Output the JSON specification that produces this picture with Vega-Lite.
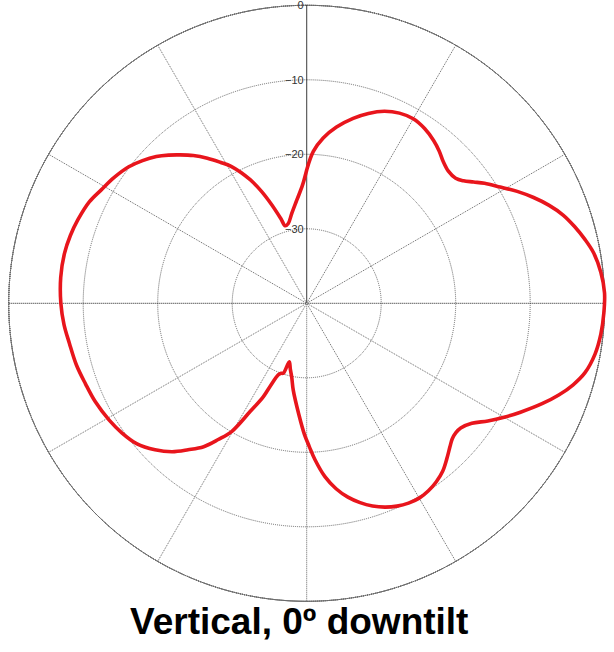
{
  "$schema": "https://vega.github.io/schema/vega-lite/v6.json",
  "description": "Vertical antenna pattern, 0 degree downtilt (dB, polar).",
  "width": 614,
  "height": 652,
  "autosize": "none",
  "padding": 0,
  "background": "white",
  "config": {"view": {"stroke": null}},
  "layer": [
    {
      "data": {"values": [{"level": -30}, {"level": -20}, {"level": -10}, {"level": 0}]},
      "mark": {"type": "arc", "theta": 0, "theta2": 6.2832, "fillOpacity": 0, "stroke": "#666666", "strokeWidth": 1, "strokeDash": [1, 1]},
      "encoding": {
        "x": {"datum": 0, "type": "quantitative", "scale": {"domain": [-41.168, 41.248], "nice": false, "zero": false}, "axis": null},
        "y": {"datum": 0, "type": "quantitative", "scale": {"domain": [-46.805, 40.711], "nice": false, "zero": false}, "axis": null},
        "radius": {"field": "level", "type": "quantitative", "stack": null, "scale": {"type": "linear", "domain": [-40, 0], "range": [0, 298], "zero": false}, "legend": null}
      }
    },
    {
      "data": {"values": [
        {"angle": 0}, {"angle": 30}, {"angle": 60}, {"angle": 90}, {"angle": 120}, {"angle": 150},
        {"angle": 180}, {"angle": 210}, {"angle": 240}, {"angle": 270}, {"angle": 300}, {"angle": 330}
      ]},
      "transform": [
        {"calculate": "40 * sin(datum.angle * PI / 180)", "as": "xe"},
        {"calculate": "40 * cos(datum.angle * PI / 180)", "as": "ye"}
      ],
      "mark": {"type": "rule", "strokeWidth": 1},
      "encoding": {
        "x": {"field": "xe", "type": "quantitative", "scale": {"domain": [-41.168, 41.248], "nice": false, "zero": false}, "axis": null},
        "y": {"field": "ye", "type": "quantitative", "scale": {"domain": [-46.805, 40.711], "nice": false, "zero": false}, "axis": null},
        "x2": {"datum": 0},
        "y2": {"datum": 0},
        "color": {"condition": {"test": "datum.angle === 0 || datum.angle === 90 || datum.angle === 270", "value": "#1a1a1a"}, "value": "#666666"},
        "strokeDash": {"condition": {"test": "datum.angle === 0", "value": [1, 0]}, "value": [1, 1]}
      }
    },
    {
      "data": {"values": [{"level": 0}, {"level": -10}, {"level": -20}, {"level": -30}]},
      "transform": [{"calculate": "datum.level + 40", "as": "r"}],
      "mark": {"type": "text", "align": "right", "baseline": "middle", "dx": -3, "dy": 1, "fontSize": 11, "font": "Liberation Sans", "color": "#333333"},
      "encoding": {
        "x": {"datum": 0, "type": "quantitative", "scale": {"domain": [-41.168, 41.248], "nice": false, "zero": false}, "axis": null},
        "y": {"field": "r", "type": "quantitative", "scale": {"domain": [-46.805, 40.711], "nice": false, "zero": false}, "axis": null},
        "text": {"field": "level", "type": "quantitative"}
      }
    },
    {
      "data": {"values": [
        {"angle": 0, "gain": -22.1}, {"angle": 2.5, "gain": -19.6}, {"angle": 5.7, "gain": -17.7}, {"angle": 9.6, "gain": -16.0},
        {"angle": 14.1, "gain": -14.4}, {"angle": 18, "gain": -13.2}, {"angle": 22, "gain": -12.2},
        {"angle": 26, "gain": -11.6}, {"angle": 30, "gain": -11.4}, {"angle": 34, "gain": -11.7}, {"angle": 38, "gain": -12.3},
        {"angle": 41, "gain": -12.9}, {"angle": 44, "gain": -13.6}, {"angle": 47, "gain": -14.0}, {"angle": 50, "gain": -13.9},
        {"angle": 52, "gain": -13.3}, {"angle": 54, "gain": -12.3}, {"angle": 56, "gain": -11.2}, {"angle": 59, "gain": -9.7},
        {"angle": 62, "gain": -8.0}, {"angle": 65, "gain": -6.4}, {"angle": 68, "gain": -4.9}, {"angle": 71, "gain": -3.6},
        {"angle": 74, "gain": -2.6}, {"angle": 77, "gain": -1.7}, {"angle": 80, "gain": -0.9}, {"angle": 84, "gain": -0.3},
        {"angle": 88, "gain": 0}, {"angle": 92, "gain": -0.1}, {"angle": 96, "gain": -0.3}, {"angle": 100, "gain": -0.7},
        {"angle": 104, "gain": -1.5}, {"angle": 107, "gain": -2.6}, {"angle": 110, "gain": -4.0}, {"angle": 113, "gain": -5.6},
        {"angle": 117, "gain": -7.8}, {"angle": 120, "gain": -9.4}, {"angle": 123, "gain": -11.0}, {"angle": 126, "gain": -12.6},
        {"angle": 129, "gain": -13.4}, {"angle": 131, "gain": -13.5}, {"angle": 133, "gain": -13.3}, {"angle": 135, "gain": -12.8},
        {"angle": 138, "gain": -11.9}, {"angle": 141, "gain": -11.0}, {"angle": 144, "gain": -10.4}, {"angle": 147, "gain": -10.0},
        {"angle": 150, "gain": -9.8}, {"angle": 153, "gain": -9.9}, {"angle": 156, "gain": -10.2}, {"angle": 159, "gain": -10.7},
        {"angle": 162, "gain": -11.4}, {"angle": 165, "gain": -12.3}, {"angle": 168, "gain": -13.4}, {"angle": 171, "gain": -14.8},
        {"angle": 174, "gain": -16.6}, {"angle": 177, "gain": -19.0}, {"angle": 179, "gain": -20.8}, {"angle": 181, "gain": -22.4},
        {"angle": 184, "gain": -25.0}, {"angle": 188.8, "gain": -28.2}, {"angle": 191.5, "gain": -29.9}, {"angle": 194, "gain": -30.9},
        {"angle": 196.6, "gain": -31.8}, {"angle": 198.5, "gain": -30.1}, {"angle": 200, "gain": -30.0}, {"angle": 201.6, "gain": -29.7},
        {"angle": 203.8, "gain": -27.8}, {"angle": 204.9, "gain": -26.2}, {"angle": 207.6, "gain": -23.6}, {"angle": 210.3, "gain": -20.1},
        {"angle": 213, "gain": -18.2}, {"angle": 215.7, "gain": -16.3}, {"angle": 219, "gain": -14.7}, {"angle": 222.2, "gain": -13.1},
        {"angle": 226, "gain": -11.7}, {"angle": 230.5, "gain": -10.4}, {"angle": 235, "gain": -9.7}, {"angle": 239.4, "gain": -9.2},
        {"angle": 245, "gain": -8.7}, {"angle": 250, "gain": -8.4}, {"angle": 255, "gain": -8.0}, {"angle": 260.4, "gain": -7.7},
        {"angle": 265, "gain": -7.3}, {"angle": 270, "gain": -7.0}, {"angle": 276, "gain": -6.8}, {"angle": 281.6, "gain": -6.8},
        {"angle": 286, "gain": -7.0}, {"angle": 290, "gain": -7.3}, {"angle": 295, "gain": -7.8}, {"angle": 298.9, "gain": -8.5},
        {"angle": 303, "gain": -9.1}, {"angle": 307.5, "gain": -9.9}, {"angle": 311, "gain": -10.8}, {"angle": 314.3, "gain": -11.8},
        {"angle": 317, "gain": -12.8}, {"angle": 319.5, "gain": -13.8}, {"angle": 322.5, "gain": -15.0}, {"angle": 325.6, "gain": -16.4},
        {"angle": 328.5, "gain": -17.8}, {"angle": 331.1, "gain": -19.0}, {"angle": 335.5, "gain": -21.8}, {"angle": 338, "gain": -23.8},
        {"angle": 340.5, "gain": -26.0}, {"angle": 343, "gain": -28.1}, {"angle": 344.5, "gain": -29.2}, {"angle": 347, "gain": -29.0},
        {"angle": 350.5, "gain": -27.8}, {"angle": 354.5, "gain": -26.1}, {"angle": 358, "gain": -24.1}, {"angle": 360, "gain": -22.1}
      ]},
      "transform": [
        {"calculate": "(datum.gain + 40) * sin(datum.angle * PI / 180)", "as": "px"},
        {"calculate": "(datum.gain + 40) * cos(datum.angle * PI / 180)", "as": "py"}
      ],
      "mark": {"type": "line", "color": "#e8151c", "strokeWidth": 3.6, "interpolate": "catmull-rom", "strokeJoin": "round"},
      "encoding": {
        "x": {"field": "px", "type": "quantitative", "scale": {"domain": [-41.168, 41.248], "nice": false, "zero": false}, "axis": null},
        "y": {"field": "py", "type": "quantitative", "scale": {"domain": [-46.805, 40.711], "nice": false, "zero": false}, "axis": null},
        "order": {"field": "angle", "type": "quantitative"}
      }
    },
    {
      "data": {"values": [{"caption": "Vertical, 0º downtilt"}]},
      "mark": {"type": "text", "align": "center", "baseline": "alphabetic", "fontSize": 37, "fontWeight": "bold", "font": "Liberation Sans", "color": "#000000"},
      "encoding": {
        "x": {"datum": -1, "type": "quantitative", "scale": {"domain": [-41.168, 41.248], "nice": false, "zero": false}, "axis": null},
        "y": {"datum": -44.4, "type": "quantitative", "scale": {"domain": [-46.805, 40.711], "nice": false, "zero": false}, "axis": null},
        "text": {"field": "caption"}
      }
    }
  ]
}
